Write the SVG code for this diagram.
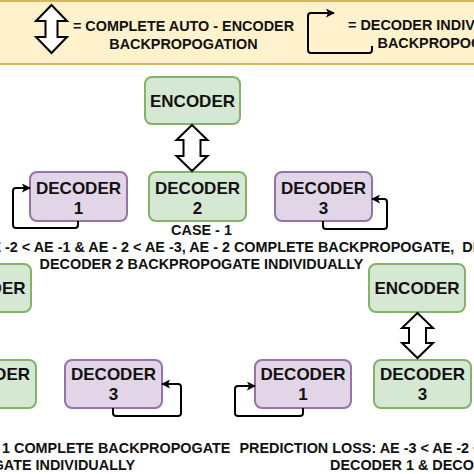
<svg xmlns="http://www.w3.org/2000/svg" width="474" height="474" viewBox="0 0 474 474">
<defs>
<style>
text{font-family:"Liberation Sans",Arial,sans-serif;font-weight:bold;fill:#111}
.cap{font-size:14.4px}
.nt{font-size:17px;text-anchor:middle}
.g{fill:#d5e8d4;stroke:#82b366;stroke-width:2}
.p{fill:#e1d5e7;stroke:#9673a6;stroke-width:2}
.loop{fill:none;stroke:#000;stroke-width:2;marker-end:url(#ah)}
.dbl{fill:#fff;stroke:#000;stroke-width:2;stroke-linejoin:miter}
</style>
<marker id="ah" viewBox="0 0 10 10" refX="9" refY="5" markerWidth="9" markerHeight="9" markerUnits="userSpaceOnUse" orient="auto">
<path d="M0,0 L10,5 L0,10 L2.5,5 Z" fill="#000"/>
</marker>
</defs>
<rect width="474" height="474" fill="#fff"/>

<g id="legend">
<rect x="-10" y="1" width="500" height="63" fill="#fff2cc" stroke="#d6b656" stroke-width="2"/>
<path class="dbl" d="M51.5,5 L67,21 L57.5,21 L57.5,37 L67,37 L51.5,53 L36,37 L45.5,37 L45.5,21 L36,21 Z"/>
<text class="cap" x="183.5" y="30.5" text-anchor="middle">= COMPLETE AUTO - ENCODER</text>
<text class="cap" x="183.5" y="48.5" text-anchor="middle">BACKPROPOGATION</text>
<path class="loop" d="M372,46 V50 Q372,53 369,53 H311 Q308,53 308,50 V16 Q308,13 311,13 H334"/>
<text class="cap" x="348" y="30">= DECODER INDIVIDUALLY</text>
<text class="cap" x="377.5" y="48">BACKPROPOGATION</text>
</g>

<g id="case1-encoder"><rect class="g" x="145" y="77" width="95" height="47" rx="7"/><text class="nt" x="192.5" y="106.7">ENCODER</text></g>
<g id="case1-decoder1"><rect class="p" x="30" y="172" width="97" height="49" rx="7"/><text class="nt" x="78.5" y="193.5">DECODER</text><text class="nt" x="78.5" y="213.5">1</text></g>
<g id="case1-decoder2"><rect class="g" x="149" y="172" width="97" height="49" rx="7"/><text class="nt" x="197.5" y="193.5">DECODER</text><text class="nt" x="197.5" y="213.5">2</text></g>
<g id="case1-decoder3"><rect class="p" x="275" y="172" width="97" height="49" rx="7"/><text class="nt" x="323.5" y="193.5">DECODER</text><text class="nt" x="323.5" y="213.5">3</text></g>

<g id="case2-encoder"><rect class="g" x="-65" y="264" width="96" height="48" rx="7"/><text class="nt" x="-17" y="293.5">ENCODER</text></g>
<g id="case2-decoder1"><rect class="g" x="-61" y="360" width="97" height="48" rx="7"/><text class="nt" x="-12.5" y="379.5">DECODER</text><text class="nt" x="-12.5" y="400">1</text></g>
<g id="case2-decoder3"><rect class="p" x="65" y="360" width="97" height="48" rx="7"/><text class="nt" x="113.5" y="379.5">DECODER</text><text class="nt" x="113.5" y="400">3</text></g>

<g id="case3-encoder"><rect class="g" x="369" y="264" width="96" height="48" rx="7"/><text class="nt" x="417" y="293.5">ENCODER</text></g>
<g id="case3-decoder1"><rect class="p" x="255" y="360" width="96" height="48" rx="7"/><text class="nt" x="303" y="379.5">DECODER</text><text class="nt" x="303" y="400">1</text></g>
<g id="case3-decoder3"><rect class="g" x="374" y="360" width="97" height="48" rx="7"/><text class="nt" x="422.5" y="379.5">DECODER</text><text class="nt" x="422.5" y="400">3</text></g>

<g id="connectors">
<path class="dbl" d="M192,125 L207.5,140 L200.5,140 L200.5,156 L207.5,156 L192,171 L176.5,156 L183.5,156 L183.5,140 L176.5,140 Z"/>
<path class="dbl" d="M417.5,313 L433,328 L426,328 L426,343 L433,343 L417.5,358 L402,343 L409,343 L409,328 L402,328 Z"/>
<path class="loop" d="M78,221 V225 Q78,228 75,228 H16 Q13,228 13,225 V191 Q13,188 16,188 H30"/>
<path class="loop" d="M323,221 V226 Q323,229 326,229 H384 Q387,229 387,226 V202 Q387,199 384,199 H372"/>
<path class="loop" d="M113,408 V413 Q113,416 116,416 H178 Q181,416 181,413 V387 Q181,384 178,384 H162"/>
<path class="loop" d="M303,408 V413 Q303,416 300,416 H238 Q235,416 235,413 V389 Q235,386 238,386 H255"/>
</g>

<g id="captions">
<text class="cap" x="201.5" y="235" text-anchor="middle">CASE - 1</text>
<text class="cap" x="-19" y="252" xml:space="preserve">AE -2 &lt; AE -1 &amp; AE - 2 &lt; AE -3, AE - 2 COMPLETE BACKPROPOGATE,  DECODER</text>
<text class="cap" x="201.5" y="269" text-anchor="middle">DECODER 2 BACKPROPOGATE INDIVIDUALLY</text>
<text class="cap" x="2" y="453">1 COMPLETE BACKPROPOGATE</text>
<text class="cap" x="135" y="470" text-anchor="end">BACKPROPOGATE INDIVIDUALLY</text>
<text class="cap" x="239.5" y="453">PREDICTION LOSS: AE -3 &lt; AE -2 &lt;</text>
<text class="cap" x="330" y="470">DECODER 1 &amp; DECODER 2 BACKPROPOGATE INDIVIDUALLY</text>
</g>
</svg>
